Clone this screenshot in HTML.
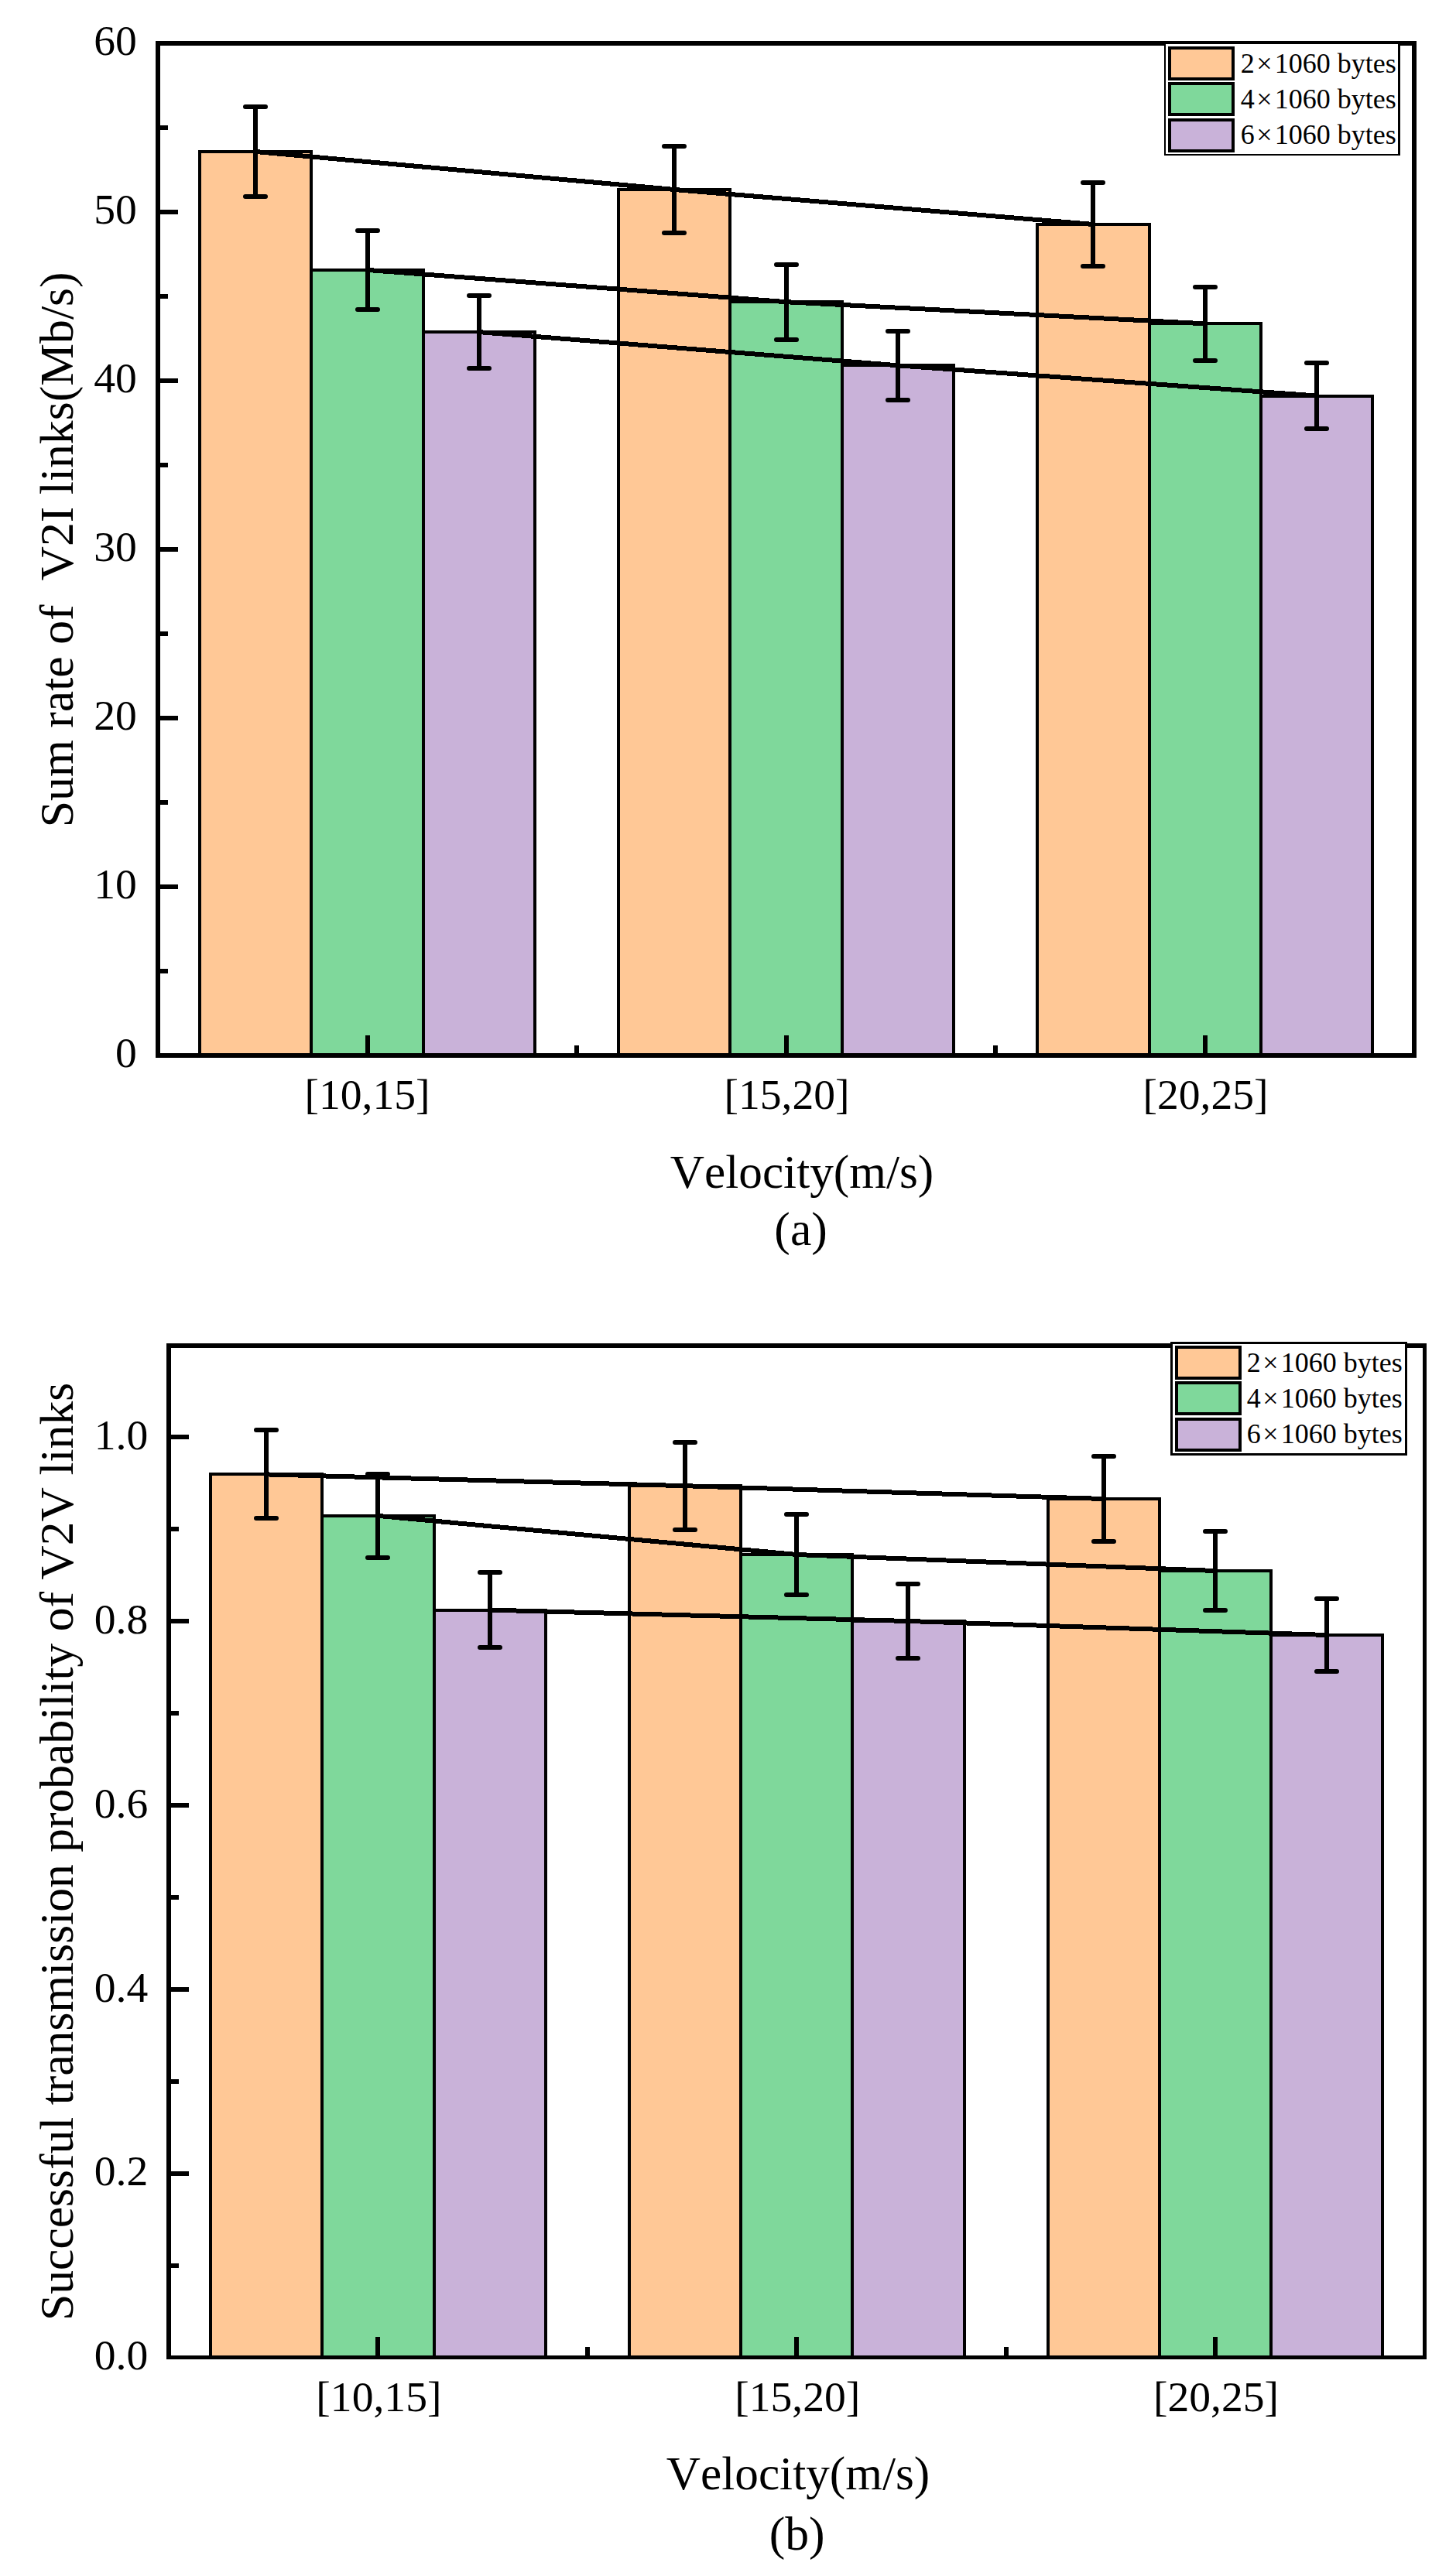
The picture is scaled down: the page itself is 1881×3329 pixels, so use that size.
<!DOCTYPE html>
<html lang="en"><head><meta charset="utf-8"><title>Figure</title>
<style>html,body{margin:0;padding:0;background:#fff}svg{display:block}text{font-kerning:none;font-family:"Liberation Serif","Times New Roman",serif;fill:#000}</style></head><body>
<svg width="1881" height="3329" viewBox="0 0 1881 3329" shape-rendering="crispEdges">
<rect width="1881" height="3329" fill="#fff"/>
<g>
<rect x="258.11" y="196.00" width="144.28" height="1168.00" fill="#FFC896" stroke="#000" stroke-width="4"/>
<rect x="402.39" y="348.90" width="144.28" height="1015.10" fill="#7FD89B" stroke="#000" stroke-width="4"/>
<rect x="546.68" y="429.10" width="144.28" height="934.90" fill="#C9B2D9" stroke="#000" stroke-width="4"/>
<rect x="799.17" y="245.00" width="144.28" height="1119.00" fill="#FFC896" stroke="#000" stroke-width="4"/>
<rect x="943.46" y="390.20" width="144.28" height="973.80" fill="#7FD89B" stroke="#000" stroke-width="4"/>
<rect x="1087.74" y="472.30" width="144.28" height="891.70" fill="#C9B2D9" stroke="#000" stroke-width="4"/>
<rect x="1340.24" y="290.00" width="144.28" height="1074.00" fill="#FFC896" stroke="#000" stroke-width="4"/>
<rect x="1484.52" y="418.30" width="144.28" height="945.70" fill="#7FD89B" stroke="#000" stroke-width="4"/>
<rect x="1628.81" y="511.50" width="144.28" height="852.50" fill="#C9B2D9" stroke="#000" stroke-width="4"/>
<polyline points="330.25,196.00 871.32,245.00 1412.38,290.00" fill="none" stroke="#000" stroke-width="6" stroke-linejoin="round"/>
<polyline points="474.53,348.90 1015.60,390.20 1556.67,418.30" fill="none" stroke="#000" stroke-width="6" stroke-linejoin="round"/>
<polyline points="618.82,429.10 1159.88,472.30 1700.95,511.50" fill="none" stroke="#000" stroke-width="6" stroke-linejoin="round"/>
<path d="M330 138V254M317 138h26M317 254h26" fill="none" stroke="#000" stroke-width="6" stroke-linecap="round" shape-rendering="geometricPrecision"/>
<path d="M475 298V400M462 298h26M462 400h26" fill="none" stroke="#000" stroke-width="6" stroke-linecap="round" shape-rendering="geometricPrecision"/>
<path d="M619 382V476M606 382h26M606 476h26" fill="none" stroke="#000" stroke-width="6" stroke-linecap="round" shape-rendering="geometricPrecision"/>
<path d="M871 189V301M858 189h26M858 301h26" fill="none" stroke="#000" stroke-width="6" stroke-linecap="round" shape-rendering="geometricPrecision"/>
<path d="M1016 342V439M1003 342h26M1003 439h26" fill="none" stroke="#000" stroke-width="6" stroke-linecap="round" shape-rendering="geometricPrecision"/>
<path d="M1160 428V517M1147 428h26M1147 517h26" fill="none" stroke="#000" stroke-width="6" stroke-linecap="round" shape-rendering="geometricPrecision"/>
<path d="M1412 236V344M1399 236h26M1399 344h26" fill="none" stroke="#000" stroke-width="6" stroke-linecap="round" shape-rendering="geometricPrecision"/>
<path d="M1557 371V466M1544 371h26M1544 466h26" fill="none" stroke="#000" stroke-width="6" stroke-linecap="round" shape-rendering="geometricPrecision"/>
<path d="M1701 469V554M1688 469h26M1688 554h26" fill="none" stroke="#000" stroke-width="6" stroke-linecap="round" shape-rendering="geometricPrecision"/>
<path d="M204.00 1146.00h26M204.00 928.00h26M204.00 710.00h26M204.00 492.00h26M204.00 274.00h26M204.00 1255.00h13M204.00 1037.00h13M204.00 819.00h13M204.00 601.00h13M204.00 383.00h13M204.00 165.00h13M475 1364.00v-26M1016 1364.00v-26M1557 1364.00v-26M745.07 1364.00v-13M1286.13 1364.00v-13" fill="none" stroke="#000" stroke-width="6"/>
<path d="M201 53H1830V1367H201ZM207 59V1361H1824V59Z" fill="#000" fill-rule="evenodd"/>
<text x="176.80" y="1379.10" font-size="55.6" text-anchor="end" >0</text>
<text x="176.80" y="1161.10" font-size="55.6" text-anchor="end" >10</text>
<text x="176.80" y="943.10" font-size="55.6" text-anchor="end" >20</text>
<text x="176.80" y="725.10" font-size="55.6" text-anchor="end" >30</text>
<text x="176.80" y="507.10" font-size="55.6" text-anchor="end" >40</text>
<text x="176.80" y="289.10" font-size="55.6" text-anchor="end" >50</text>
<text x="176.80" y="71.10" font-size="55.6" text-anchor="end" >60</text>
<text x="474.50" y="1433.30" font-size="55.6" text-anchor="middle" >[10,15]</text>
<text x="1016.50" y="1433.30" font-size="55.6" text-anchor="middle" >[15,20]</text>
<text x="1557.50" y="1433.30" font-size="55.6" text-anchor="middle" >[20,25]</text>
<text x="1036.00" y="1534.60" font-size="61.3" text-anchor="middle" >Velocity(m/s)</text>
<text x="1034.60" y="1609.40" font-size="61.7" text-anchor="middle" >(a)</text>
<text transform="translate(94.2,710.3) rotate(-90)" font-size="61.7" text-anchor="middle" xml:space="preserve" style="white-space:pre">Sum rate of  V2I links(Mb/s)</text>
<rect x="1504" y="55" width="305" height="146" fill="#000"/>
<rect x="1506" y="57" width="300" height="142" fill="#fff"/>
<rect x="1511" y="62.00" width="82" height="40" fill="#FFC896" stroke="#000" stroke-width="4"/>
<text x="1602.80" y="94.40" font-size="36" text-anchor="start" >2<tspan dx="2.4">×</tspan><tspan dx="3.2">1060 bytes</tspan></text>
<rect x="1511" y="108.25" width="82" height="40" fill="#7FD89B" stroke="#000" stroke-width="4"/>
<text x="1602.80" y="140.35" font-size="36" text-anchor="start" >4<tspan dx="2.4">×</tspan><tspan dx="3.2">1060 bytes</tspan></text>
<rect x="1511" y="154.50" width="82" height="40" fill="#C9B2D9" stroke="#000" stroke-width="4"/>
<text x="1602.80" y="186.30" font-size="36" text-anchor="start" >6<tspan dx="2.4">×</tspan><tspan dx="3.2">1060 bytes</tspan></text>
</g>
<g>
<rect x="272.08" y="1905.40" width="144.21" height="1141.00" fill="#FFC896" stroke="#000" stroke-width="4"/>
<rect x="416.29" y="1958.90" width="144.21" height="1087.50" fill="#7FD89B" stroke="#000" stroke-width="4"/>
<rect x="560.51" y="2080.60" width="144.21" height="965.80" fill="#C9B2D9" stroke="#000" stroke-width="4"/>
<rect x="812.88" y="1920.20" width="144.21" height="1126.20" fill="#FFC896" stroke="#000" stroke-width="4"/>
<rect x="957.09" y="2009.00" width="144.21" height="1037.40" fill="#7FD89B" stroke="#000" stroke-width="4"/>
<rect x="1101.31" y="2095.00" width="144.21" height="951.40" fill="#C9B2D9" stroke="#000" stroke-width="4"/>
<rect x="1353.68" y="1937.00" width="144.21" height="1109.40" fill="#FFC896" stroke="#000" stroke-width="4"/>
<rect x="1497.89" y="2030.00" width="144.21" height="1016.40" fill="#7FD89B" stroke="#000" stroke-width="4"/>
<rect x="1642.11" y="2113.00" width="144.21" height="933.40" fill="#C9B2D9" stroke="#000" stroke-width="4"/>
<polyline points="344.19,1905.40 884.99,1920.20 1425.79,1937.00" fill="none" stroke="#000" stroke-width="6" stroke-linejoin="round"/>
<polyline points="488.40,1958.90 1029.20,2009.00 1570.00,2030.00" fill="none" stroke="#000" stroke-width="6" stroke-linejoin="round"/>
<polyline points="632.61,2080.60 1173.41,2095.00 1714.21,2113.00" fill="none" stroke="#000" stroke-width="6" stroke-linejoin="round"/>
<path d="M344 1848V1962M331 1848h26M331 1962h26" fill="none" stroke="#000" stroke-width="6" stroke-linecap="round" shape-rendering="geometricPrecision"/>
<path d="M488 1905V2013M475 1905h26M475 2013h26" fill="none" stroke="#000" stroke-width="6" stroke-linecap="round" shape-rendering="geometricPrecision"/>
<path d="M633 2032V2129M620 2032h26M620 2129h26" fill="none" stroke="#000" stroke-width="6" stroke-linecap="round" shape-rendering="geometricPrecision"/>
<path d="M885 1864V1977M872 1864h26M872 1977h26" fill="none" stroke="#000" stroke-width="6" stroke-linecap="round" shape-rendering="geometricPrecision"/>
<path d="M1029 1957V2061M1016 1957h26M1016 2061h26" fill="none" stroke="#000" stroke-width="6" stroke-linecap="round" shape-rendering="geometricPrecision"/>
<path d="M1173 2047V2143M1160 2047h26M1160 2143h26" fill="none" stroke="#000" stroke-width="6" stroke-linecap="round" shape-rendering="geometricPrecision"/>
<path d="M1426 1882V1992M1413 1882h26M1413 1992h26" fill="none" stroke="#000" stroke-width="6" stroke-linecap="round" shape-rendering="geometricPrecision"/>
<path d="M1570 1979V2081M1557 1979h26M1557 2081h26" fill="none" stroke="#000" stroke-width="6" stroke-linecap="round" shape-rendering="geometricPrecision"/>
<path d="M1714 2066V2160M1701 2066h26M1701 2160h26" fill="none" stroke="#000" stroke-width="6" stroke-linecap="round" shape-rendering="geometricPrecision"/>
<path d="M218.00 2809.00h26M218.00 2571.00h26M218.00 2333.00h26M218.00 2095.00h26M218.00 1857.00h26M218.00 2928.00h13M218.00 2690.00h13M218.00 2452.00h13M218.00 2214.00h13M218.00 1976.00h13M488 3046.40v-26M1029 3046.40v-26M1570 3046.40v-26M758.80 3046.40v-13M1299.60 3046.40v-13" fill="none" stroke="#000" stroke-width="6"/>
<path d="M215 1736H1843V3049H215ZM221 1742V3044H1838V1742Z" fill="#000" fill-rule="evenodd"/>
<text x="191.20" y="3062.00" font-size="55.6" text-anchor="end" >0.0</text>
<text x="191.20" y="2824.29" font-size="55.6" text-anchor="end" >0.2</text>
<text x="191.20" y="2586.58" font-size="55.6" text-anchor="end" >0.4</text>
<text x="191.20" y="2348.87" font-size="55.6" text-anchor="end" >0.6</text>
<text x="191.20" y="2111.16" font-size="55.6" text-anchor="end" >0.8</text>
<text x="191.20" y="1873.45" font-size="55.6" text-anchor="end" >1.0</text>
<text x="489.40" y="3115.50" font-size="55.6" text-anchor="middle" >[10,15]</text>
<text x="1030.30" y="3115.50" font-size="55.6" text-anchor="middle" >[15,20]</text>
<text x="1571.00" y="3115.50" font-size="55.6" text-anchor="middle" >[20,25]</text>
<text x="1031.00" y="3216.80" font-size="61.3" text-anchor="middle" >Velocity(m/s)</text>
<text x="1029.70" y="3294.60" font-size="61.7" text-anchor="middle" >(b)</text>
<text transform="translate(94,2392.9) rotate(-90)" font-size="61.55" text-anchor="middle">Successful transmission probability of V2V links</text>
<rect x="1512" y="1734" width="306" height="147" fill="#000"/>
<rect x="1515" y="1737" width="300" height="141" fill="#fff"/>
<rect x="1520" y="1741.00" width="82" height="40" fill="#FFC896" stroke="#000" stroke-width="4"/>
<text x="1610.80" y="1773.20" font-size="36" text-anchor="start" >2<tspan dx="2.4">×</tspan><tspan dx="3.2">1060 bytes</tspan></text>
<rect x="1520" y="1787.25" width="82" height="40" fill="#7FD89B" stroke="#000" stroke-width="4"/>
<text x="1610.80" y="1819.15" font-size="36" text-anchor="start" >4<tspan dx="2.4">×</tspan><tspan dx="3.2">1060 bytes</tspan></text>
<rect x="1520" y="1833.50" width="82" height="40" fill="#C9B2D9" stroke="#000" stroke-width="4"/>
<text x="1610.80" y="1865.10" font-size="36" text-anchor="start" >6<tspan dx="2.4">×</tspan><tspan dx="3.2">1060 bytes</tspan></text>
</g>
</svg></body></html>
